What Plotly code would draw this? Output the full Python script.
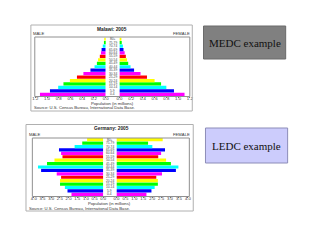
import plotly.graph_objects as go

W, H = 320, 240

AGES = ["0-4", "5-9", "10-14", "15-19", "20-24", "25-29", "30-34", "35-39", "40-44",
        "45-49", "50-54", "55-59", "60-64", "65-69", "70-74", "75-79", "80+"]

MALAWI_MALE = [1.12, 0.95, 0.81, 0.72, 0.61, 0.49, 0.38, 0.26, 0.19, 0.15, 0.13, 0.10, 0.08, 0.07, 0.05, 0.03, 0.02]
MALAWI_FEMALE = [1.11, 0.93, 0.80, 0.71, 0.60, 0.47, 0.36, 0.25, 0.19, 0.15, 0.13, 0.11, 0.09, 0.07, 0.06, 0.04, 0.03]

GERMANY_MALE = [1.83, 2.06, 2.21, 2.49, 2.49, 2.43, 2.68, 3.58, 3.76, 3.24, 2.81, 2.35, 2.43, 2.55, 1.65, 1.21, 0.93]
GERMANY_FEMALE = [1.68, 1.96, 2.14, 2.32, 2.32, 2.23, 2.55, 3.33, 3.47, 3.05, 2.78, 2.34, 2.50, 2.72, 2.01, 1.77, 2.59]

MALAWI_TICKS = [0.0, 0.2, 0.4, 0.6, 0.8, 1.0, 1.2]
GERMANY_TICKS = [0.0, 0.5, 1.0, 1.5, 2.0, 2.5, 3.0, 3.5, 4.0]

CYCLE = ["#ff00ff", "#0000ff", "#00ffff", "#00ff00", "#ffff00", "#ff0000"]
COLORS = [CYCLE[i % len(CYCLE)] for i in range(len(AGES))]


def px(x):
    return x / W


def py(y):
    return 1 - y / H


fig = go.Figure()

panels = [
    ("x", "y", MALAWI_MALE),
    ("x2", "y", MALAWI_FEMALE),
    ("x3", "y2", GERMANY_MALE),
    ("x4", "y2", GERMANY_FEMALE),
]
for xa, ya, vals in panels:
    fig.add_trace(go.Bar(x=vals, y=AGES, orientation="h", xaxis=xa, yaxis=ya,
                         marker=dict(color=COLORS, line=dict(width=0)),
                         showlegend=False, hoverinfo="skip"))

tickfont = dict(family="Liberation Sans", size=4.3, color="#333333")
axcommon = dict(showgrid=False, zeroline=False, showline=False, ticks="outside",
                ticklen=1, tickcolor="#777777", tickfont=tickfont, tickformat=".1f",
                tickangle=0, ticklabelstandoff=-3, fixedrange=True)

fig.update_layout(
    width=W, height=H, margin=dict(l=0, r=0, t=0, b=0),
    paper_bgcolor="white", plot_bgcolor="rgba(0,0,0,0)",
    bargap=0.06,
    xaxis=dict(domain=[px(33), px(105)], range=[1.2, 0], tickvals=MALAWI_TICKS, anchor="y", **axcommon),
    xaxis2=dict(domain=[px(119), px(191)], range=[0, 1.2], tickvals=MALAWI_TICKS, anchor="y", **axcommon),
    xaxis3=dict(domain=[px(31.5), px(102.5)], range=[4, 0], tickvals=GERMANY_TICKS, anchor="y2", **axcommon),
    xaxis4=dict(domain=[px(116), px(189)], range=[0, 4], tickvals=GERMANY_TICKS, anchor="y2", **axcommon),
    yaxis=dict(domain=[py(96), py(37.5)], range=[-0.5, len(AGES) - 0.5], showticklabels=False,
               showgrid=False, zeroline=False, showline=False, fixedrange=True, anchor="x"),
    yaxis2=dict(domain=[py(196), py(138)], range=[-0.5, len(AGES) - 0.5], showticklabels=False,
                showgrid=False, zeroline=False, showline=False, fixedrange=True, anchor="x3"),
)

shapes = []
# outer boxes
shapes.append(dict(type="rect", xref="paper", yref="paper", x0=px(28.5), x1=px(193.5), y0=py(111), y1=py(25),
                   line=dict(color="#b0b0b0", width=1), fillcolor="rgba(0,0,0,0)"))
shapes.append(dict(type="rect", xref="paper", yref="paper", x0=px(23.5), x1=px(194.5), y0=py(211), y1=py(124.5),
                   line=dict(color="#b0b0b0", width=1), fillcolor="rgba(0,0,0,0)"))
# inner frames
shapes.append(dict(type="rect", xref="paper", yref="paper", x0=px(32.5), x1=px(191), y0=py(96.5), y1=py(37),
                   line=dict(color="#909090", width=1), fillcolor="rgba(0,0,0,0)"))
shapes.append(dict(type="rect", xref="paper", yref="paper", x0=px(30), x1=px(190.5), y0=py(196.5), y1=py(138),
                   line=dict(color="#909090", width=1), fillcolor="rgba(0,0,0,0)"))
# label boxes
shapes.append(dict(type="rect", xref="paper", yref="paper", x0=px(205), x1=px(289), y0=py(59), y1=py(26),
                   line=dict(color="#6a6a6a", width=1), fillcolor="#808080"))
shapes.append(dict(type="rect", xref="paper", yref="paper", x0=px(207), x1=px(291), y0=py(163), y1=py(128),
                   line=dict(color="#8c8cb8", width=1), fillcolor="#ccccfc"))
fig.update_layout(shapes=shapes)

small = dict(family="Liberation Sans", size=4.2, color="#333333")
title = dict(family="Liberation Sans", size=4.8, color="#222222")
tiny = dict(family="Liberation Sans", size=3.2, color="#444444")
ann = []


def text(x, y, s, font, xanchor="center"):
    ann.append(dict(x=px(x), y=py(y), xref="paper", yref="paper", text=s, showarrow=False,
                    xanchor=xanchor, yanchor="middle", font=font))


text(111.5, 29.5, "<b>Malawi: 2005</b>", title)
text(29, 33.5, "MALE", small, "left")
text(193, 33.5, "FEMALE", small, "right")
text(112, 103.2, "Population (in millions)", small)
text(29.5, 108, "Source: U.S. Census Bureau, International Data Base.", small, "left")

text(111, 128.5, "<b>Germany: 2005</b>", title)
text(24.5, 134.5, "MALE", small, "left")
text(193.5, 134.5, "FEMALE", small, "right")
text(109, 203.8, "Population (in millions)", small)
text(25, 208.2, "Source: U.S. Census Bureau, International Data Base.", small, "left")

for i, a in enumerate(AGES):
    ann.append(dict(x=px(112), y=a, xref="paper", yref="y", text=a, showarrow=False,
                    xanchor="center", yanchor="middle", font=tiny))
    ann.append(dict(x=px(109.3), y=a, xref="paper", yref="y2", text=a, showarrow=False,
                    xanchor="center", yanchor="middle", font=tiny))

serif = dict(family="Liberation Serif", size=11, color="#111111")
text(247, 42.5, "MEDC example", serif)
text(249, 145.5, "LEDC example", serif)

fig.update_layout(annotations=ann)
fig.write_html("out.html")
